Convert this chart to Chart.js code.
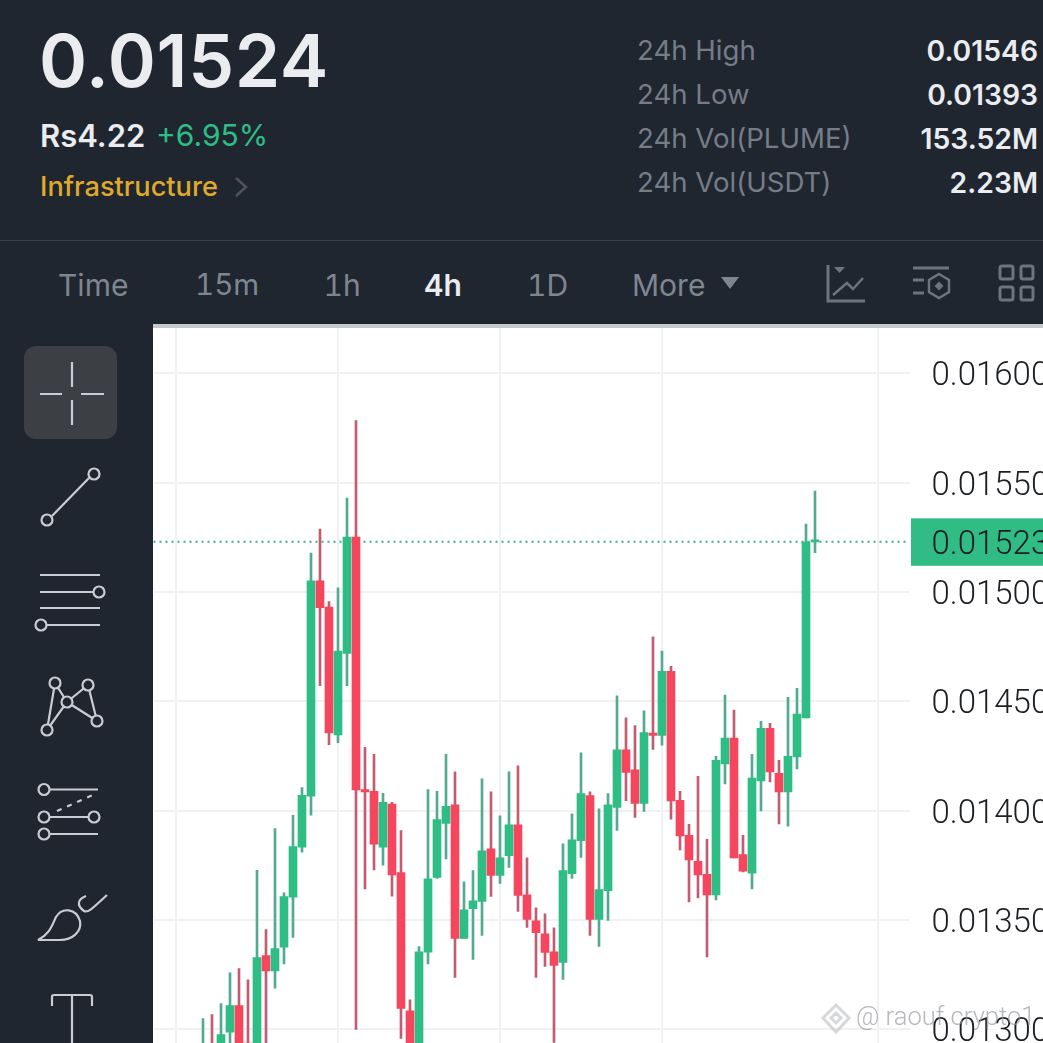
<!DOCTYPE html>
<html><head><meta charset="utf-8">
<script src="https://cdn.jsdelivr.net/npm/chart.js@4"></script>
<style>
html,body{margin:0;padding:0;width:1043px;height:1043px;overflow:hidden;background:#1f2630;font-family:Inter,"Open Sans",sans-serif}
.t{position:absolute;white-space:nowrap;line-height:1}
#wrap{position:absolute;left:153px;top:328px;width:890px;height:715px;background:#fff}
#band{position:absolute;left:153px;top:324px;width:890px;height:4px;background:#c6c9cc}
#rule{position:absolute;left:0;top:240px;width:1043px;height:1px;background:#3b4047}
svg{position:absolute;left:0;top:0}
.lbl{color:#767d88;font-size:27.6px;left:637px}
.val{color:#eaecef;font-size:28.3px;font-weight:600;right:5px}
.tab{color:#7f8691;font-size:30px;top:270px;font-variant-numeric:tabular-nums}
</style></head><body>
<div class="t" style="left:39px;top:24px;font-size:73px;font-weight:600;color:#eaecef;letter-spacing:.7px">0.01524</div>
<div class="t" style="left:40px;top:120px;font-size:31px;font-weight:600;color:#eaecef">Rs4.22</div>
<div class="t" style="left:156px;top:120px;font-size:30px;color:#2ebd85">+6.95%</div>
<div class="t" style="left:40px;top:173px;font-size:27.2px;font-weight:500;color:#dfa92e">Infrastructure</div>
<div class="t lbl" style="top:37px">24h High</div><div class="t val" style="top:37px">0.01546</div>
<div class="t lbl" style="top:81px">24h Low</div><div class="t val" style="top:81px">0.01393</div>
<div class="t lbl" style="top:125px">24h Vol(PLUME)</div><div class="t val" style="top:125px">153.52M</div>
<div class="t lbl" style="top:169px">24h Vol(USDT)</div><div class="t val" style="top:169px">2.23M</div>
<div id="rule"></div>
<div class="t tab" style="left:58px">Time</div>
<div class="t tab" style="left:195px;font-size:29.5px">15m</div>
<div class="t tab" style="left:323.500px">1h</div>
<div class="t tab" style="left:424px;color:#eaecef;font-weight:600">4h</div>
<div class="t tab" style="left:527px">1D</div>
<div class="t tab" style="left:632px">More</div>
<div id="band"></div>
<div id="wrap"><canvas id="c" width="890" height="715" style="display:block;width:890px;height:715px"></canvas></div>
<svg width="1043" height="1043" style="pointer-events:none">
 <polyline points="236,178 246,187 236,196" fill="none" stroke="#4f545c" stroke-width="2.5"/>
 <polygon points="721,277 739,277 730,289" fill="#7f8691"/>
 <g fill="none" stroke="#6e747e" stroke-width="3">
  <polyline points="828,265 828,301 865,301"/><polyline points="833,295 847,283 853,289 863,278" stroke-width="2.5"/>
  <line x1="913" y1="268" x2="949" y2="268"/><line x1="913" y1="280" x2="924" y2="280"/><line x1="913" y1="293" x2="924" y2="293"/>
  <polygon points="939,274 949,280 949,292 939,298 929,292 929,280" stroke-width="2.5"/>
  <rect x="1000" y="266" width="13" height="13" rx="2"/><rect x="1021" y="266" width="12" height="13" rx="2"/>
  <rect x="1000" y="287" width="13" height="13" rx="2"/><rect x="1021" y="287" width="12" height="13" rx="2"/>
 </g>
 <polygon points="834,267 845,267 839.500,273" fill="#6e747e"/>
 <polygon points="934.500,286 939,281.500 943.500,286 939,290.500" fill="#6e747e"/>
 <rect x="24" y="346" width="93" height="93" rx="12" fill="#3c3f44"/>
 <g fill="none" stroke="#c9cdd3" stroke-width="2.2">
  <path d="M40 394H62M81 394H104M72 362V387M72 400V425"/>
  <circle cx="47" cy="520" r="5.500"/><circle cx="94" cy="474" r="5.500"/><line x1="52" y1="516" x2="89" y2="478"/>
  <path d="M40 575H100M40 592H93M40 608H100M47 625H100"/><circle cx="99" cy="592" r="5.500"/><circle cx="41" cy="625" r="5.500"/>
  <path d="M47 730L55 683L67 702L47 730M67 702L88 685L97 721L67 702"/>
  <g fill="#1f2630"><circle cx="55" cy="683" r="5.500"/><circle cx="88" cy="685" r="5.500"/><circle cx="67" cy="702" r="5.500"/><circle cx="47" cy="730" r="5.500"/><circle cx="97" cy="721" r="5.500"/></g>
  <path d="M50 789.500H98M50 817H88M50 834H98"/><path d="M57 811L93 795" stroke-dasharray="5 6"/>
  <circle cx="44" cy="789.500" r="5.500"/><circle cx="44" cy="817" r="5.500"/><circle cx="94" cy="817" r="5.500"/><circle cx="44" cy="834" r="5.500"/>
  <path d="M38 940C50 934 52 925 56 917C62 907 76 908 80 921C82 932 72 940 60 940Z"/>
  <path d="M86 896C78 899 76 905 84 911C88 913 92 909 107 895"/>
  <path d="M52 1006V997Q52 995 54 995H90Q92 995 92 997V1006M72 995V1043"/>
 </g>
</svg>
<svg width="1043" height="1043" style="pointer-events:none;opacity:.55">
 <g fill="none" stroke="#b5b8bc" stroke-width="3"><path d="M836 1005L849 1018L836 1032L823 1018Z"/><path d="M836 1013L841 1018L836 1023L831 1018Z"/></g>
</svg>
<div class="t" style="left:856px;top:1004px;font-family:Roboto;font-weight:300;font-size:25.6px;color:rgba(150,152,156,.7)">@ raouf crypto1</div>
<script>
// price history, 4h candles, oldest first (index 0 is the candle drawn first)
const opens=[.01272,.0129,.01285,.012987,.013109,.012938,.01285,.013338,.013267,.013376,.013605,.013834,.014067,.015051,.014931,.014347,.014719,.015252,.014097,.014089,.013834,.01403,.013717,.013085,.01287,.013353,.013695,.013942,.014027,.013416,.013552,.013585,.013826,.013704,.013794,.013936,.013616,.013497,.013437,.013355,.013306,.013712,.013863,.014069,.013503,.013634,.014015,.014279,.014187,.014034,.014355,.014345,.014638,.014048,.013888,.013769,.013709,.013615,.014214,.014332,.0138,.013715,.014136,.014377,.014171,.014086,.014246,.014425,.01523];
const highs=[.01305,.013068,.013118,.013259,.013278,.013227,.013727,.013456,.013919,.013625,.013979,.014106,.015179,.015288,.014957,.015019,.01543,.015784,.01429,.014258,.01408,.014039,.013909,.013135,.013379,.014097,.014089,.014258,.014178,.013675,.013726,.014146,.014087,.013977,.014178,.014206,.013785,.013556,.013529,.013465,.013849,.013986,.014265,.014087,.014009,.014078,.014526,.014425,.014389,.014457,.014796,.01473,.014661,.014089,.013938,.014158,.013869,.014249,.014529,.01446,.013888,.014258,.014409,.0144,.014231,.014519,.01456,.015311,.015462];
const lows=[.01262,.01265,.0128,.01285,.0128,.01282,.0128,.01288,.013188,.013299,.013421,.013811,.01398,.014572,.014302,.014311,.014572,.013,.013642,.013729,.013751,.013609,.012959,.01276,.0128,.013299,.013691,.01378,.013238,.013416,.01332,.01343,.013608,.013668,.013741,.01354,.013466,.013238,.013288,.01294,.013229,.013691,.013787,.01343,.01338,.013498,.01391,.014046,.013969,.013997,.01428,.0143,.013962,.013821,.013583,.013601,.013331,.013592,.014123,.013784,.01372,.013642,.013999,.014132,.01394,.01393,.014191,.014425,.01518];
const closes=[.01288,.01275,.012976,.013109,.01288,.0129,.013329,.013267,.01337,.013607,.013836,.01407,.015051,.014929,.014356,.01473,.015252,.014095,.014086,.013847,.014039,.013706,.013096,.01284,.013355,.013689,.01396,.01402,.013416,.013547,.013588,.013817,.013704,.013785,.013936,.013613,.013503,.013442,.013352,.013293,.013726,.013867,.014078,.013503,.013639,.014027,.014279,.014175,.014034,.014357,.014345,.014638,.014045,.013885,.013775,.013706,.013615,.014231,.014332,.013784,.013724,.014149,.014377,.014178,.014086,.014249,.014442,.015229,.01523];
const yTicks=[.013,.0135,.014,.0145,.015,.0155,.016];
const lastPrice=.01523;
const emptyBefore=5, emptyAfter=10;
const gridSlots=[2,20,38,56,80];
const GREEN='#2ebd85',RED='#f6465d',WICK_G='#52aa8f',WICK_R='#c35c70';

const pad=a=>[...Array(emptyBefore).fill(null),...a,...Array(emptyAfter).fill(null)];
const categories=pad(opens.map((_,i)=>i)).map((_,i)=>String(i));
const up=opens.map((o,i)=>closes[i]>=o);
const bodies=pad(opens.map((o,i)=>[o,closes[i]]));
const wicks=pad(lows.map((l,i)=>[l,highs[i]]));
const bodyCol=pad(up.map(u=>u?GREEN:RED));
const wickCol=pad(up.map(u=>u?WICK_G:WICK_R));
const labelFont='300 33px Roboto';

const priceLine={id:'priceLine',
 beforeDatasetsDraw(ch){const y=ch.scales.y.getPixelForValue(lastPrice),a=ch.chartArea,c=ch.ctx;
  c.save();c.strokeStyle='#3cae88';c.lineWidth=2;c.setLineDash([2,4]);c.beginPath();c.moveTo(a.left,y);c.lineTo(a.right-2,y);c.stroke();c.restore();},
 afterDraw(ch){const y=ch.scales.y.getPixelForValue(lastPrice),a=ch.chartArea,c=ch.ctx;
  c.save();c.fillStyle='#31bc86';c.fillRect(a.right+1.5,y-23.5,ch.width-a.right,47.5);
  c.fillStyle='#1a1d21';c.font=labelFont;c.textBaseline='middle';c.textAlign='left';
  c.fillText(lastPrice.toFixed(5),a.right+22,y+3.5);c.restore();}
};
new Chart(document.getElementById('c'),{
 type:'bar',plugins:[priceLine],
 data:{labels:categories,datasets:[
  {data:bodies,backgroundColor:bodyCol,barThickness:8,grouped:false,order:0,minBarLength:2},
  {data:wicks,backgroundColor:wickCol,barThickness:2,grouped:false,order:1}
 ]},
 options:{responsive:false,animation:false,devicePixelRatio:1,
  layout:{autoPadding:false,padding:{left:.5,right:0,top:0,bottom:0}},
  plugins:{legend:{display:false},tooltip:{enabled:false}},
  scales:{
   x:{offset:true,border:{display:false},
    afterFit(s){s.height=0;s.paddingLeft=0;s.paddingRight=0},
    ticks:{display:false,autoSkip:false},
    grid:{offset:false,drawTicks:false,lineWidth:2,color:c=>gridSlots.includes(c.index)?'#f0f1f3':'rgba(0,0,0,0)'}},
   y:{position:'right',min:.0129378,max:.0162079,border:{display:false},
    afterBuildTicks(s){s.ticks=yTicks.map(v=>({value:v}))},
    afterFit(s){s.width=133.5;s.paddingTop=0;s.paddingBottom=0},
    ticks:{font:{family:'Roboto',weight:300,size:33},color:'#1c1f23',padding:22,labelOffset:3.5,callback:v=>v.toFixed(5),autoSkip:false},
    grid:{drawTicks:false,lineWidth:2,color:'#f0f1f3'}}
  }}
});
</script>
</body></html>
